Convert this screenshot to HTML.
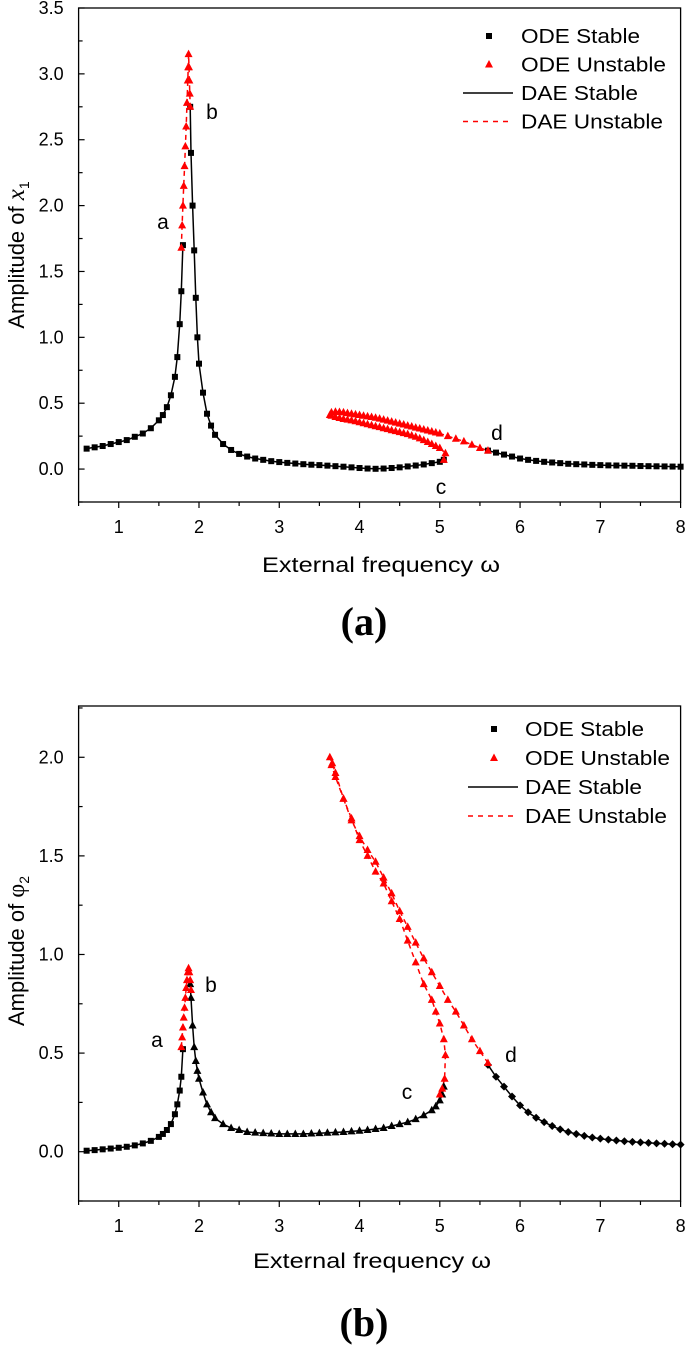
<!DOCTYPE html>
<html><head><meta charset="utf-8"><style>
body{margin:0;background:#fff}
svg{display:block;font-family:"Liberation Sans",sans-serif}
</style></head><body>
<svg id="s" width="685" height="1346" viewBox="0 0 685 1346" xmlns="http://www.w3.org/2000/svg"></svg>
<script>
// ---- Chart (a) data: amplitude of x1 ----
const aLowX=[0.6,0.7,0.8,0.9,1.0,1.1,1.2,1.3,1.4,1.5,1.55,1.6,1.65,1.7,1.73,1.76,1.78,1.8];
const aLowY=[0.155,0.165,0.175,0.19,0.205,0.22,0.245,0.27,0.31,0.37,0.41,0.47,0.56,0.70,0.85,1.1,1.35,1.70];
const aMidX=[1.89,1.9,1.92,1.94,1.96,1.98,2.0,2.05,2.1,2.15,2.2,2.3,2.4,2.5,2.6,2.7,2.8,2.9,3.0,3.1,3.2,3.3,3.4,3.5,3.6,3.7,3.8,3.9,4.0,4.1,4.2,4.3,4.4,4.5,4.6,4.7,4.8,4.9,5.0,5.05];
const aMidY=[2.75,2.4,2.0,1.66,1.3,1.0,0.8,0.58,0.42,0.33,0.26,0.19,0.145,0.115,0.095,0.08,0.07,0.06,0.053,0.047,0.042,0.037,0.033,0.03,0.026,0.022,0.018,0.013,0.008,0.004,0.002,0.004,0.008,0.013,0.02,0.027,0.035,0.045,0.055,0.07];
const aHighX=[5.6,5.7,5.8,5.9,6.0,6.1,6.2,6.3,6.4,6.5,6.6,6.7,6.8,6.9,7.0,7.1,7.2,7.3,7.4,7.5,7.6,7.7,7.8,7.9,8.0];
const aHighY=[0.14,0.125,0.11,0.095,0.08,0.07,0.062,0.055,0.05,0.045,0.04,0.037,0.035,0.032,0.03,0.028,0.027,0.026,0.025,0.023,0.022,0.021,0.02,0.019,0.018];
const aUnPeakX=[1.78,1.79,1.80,1.81,1.82,1.83,1.84,1.85,1.86,1.865,1.87,1.875,1.88,1.885,1.89];
const aUnPeakY=[1.68,1.85,2.0,2.15,2.3,2.45,2.6,2.78,2.95,3.05,3.15,3.05,2.95,2.85,2.75];
const aUnLoopX=[5.05,5.07,5.0,4.95,4.9,4.85,4.8,4.75,4.7,4.65,4.6,4.55,4.5,4.45,4.4,4.35,4.3,4.25,4.2,4.15,4.1,4.05,4.0,3.95,3.9,3.85,3.8,3.75,3.7,3.65,3.63,3.65,3.7,3.75,3.8,3.85,3.9,3.95,4.0,4.05,4.1,4.15,4.2,4.25,4.3,4.35,4.4,4.45,4.5,4.55,4.6,4.65,4.7,4.75,4.8,4.85,4.9,4.95,5.0,5.1,5.2,5.3,5.4,5.5,5.6];
const aUnLoopY=[0.07,0.12,0.16,0.175,0.19,0.205,0.22,0.233,0.245,0.255,0.265,0.273,0.28,0.288,0.295,0.303,0.31,0.318,0.325,0.333,0.34,0.348,0.355,0.363,0.37,0.375,0.38,0.388,0.395,0.405,0.41,0.43,0.435,0.433,0.43,0.425,0.42,0.415,0.41,0.405,0.40,0.395,0.39,0.383,0.375,0.368,0.36,0.353,0.345,0.338,0.33,0.323,0.315,0.308,0.3,0.293,0.285,0.278,0.27,0.25,0.23,0.21,0.185,0.16,0.14];
// ---- Chart (b) data: amplitude of phi2 ----
const bLowX=[0.6,0.7,0.8,0.9,1.0,1.1,1.2,1.3,1.4,1.5,1.55,1.6,1.65,1.7,1.73,1.76,1.78,1.8];
const bLowY=[0.005,0.008,0.012,0.016,0.02,0.025,0.032,0.042,0.055,0.075,0.09,0.11,0.14,0.19,0.24,0.31,0.38,0.52];
const bMidX=[1.89,1.9,1.92,1.94,1.96,1.98,2.0,2.05,2.1,2.15,2.2,2.3,2.4,2.5,2.6,2.7,2.8,2.9,3.0,3.1,3.2,3.3,3.4,3.5,3.6,3.7,3.8,3.9,4.0,4.1,4.2,4.3,4.4,4.5,4.6,4.7,4.8,4.9,4.95,5.0,5.03,5.05];
const bMidY=[0.85,0.78,0.64,0.53,0.46,0.41,0.37,0.3,0.24,0.2,0.17,0.14,0.12,0.11,0.1,0.097,0.094,0.092,0.09,0.09,0.09,0.09,0.092,0.094,0.096,0.098,0.1,0.103,0.106,0.11,0.115,0.12,0.13,0.14,0.15,0.165,0.185,0.21,0.23,0.26,0.29,0.33];
const bHighX=[5.6,5.7,5.8,5.9,6.0,6.1,6.2,6.3,6.4,6.5,6.6,6.7,6.8,6.9,7.0,7.1,7.2,7.3,7.4,7.5,7.6,7.7,7.8,7.9,8.0];
const bHighY=[0.44,0.38,0.33,0.28,0.235,0.2,0.172,0.15,0.13,0.113,0.1,0.09,0.08,0.072,0.066,0.061,0.057,0.053,0.05,0.047,0.045,0.042,0.04,0.038,0.036];
const bUnPeakX=[1.78,1.79,1.8,1.81,1.82,1.83,1.84,1.85,1.86,1.87,1.88,1.89,1.9];
const bUnPeakY=[0.53,0.58,0.63,0.68,0.73,0.78,0.83,0.87,0.91,0.93,0.91,0.87,0.82];
const bUnBigX=[5.0,5.03,5.06,5.07,5.05,5.0,4.95,4.9,4.8,4.7,4.6,4.5,4.4,4.3,4.2,4.1,4.0,3.9,3.8,3.7,3.65,3.63,3.66,3.7,3.8,3.9,4.0,4.1,4.2,4.3,4.4,4.5,4.6,4.7,4.8,4.9,5.0,5.1,5.2,5.3,5.4,5.5,5.6];
const bUnBigY=[0.29,0.32,0.37,0.49,0.57,0.65,0.71,0.77,0.85,0.96,1.07,1.18,1.27,1.36,1.42,1.5,1.58,1.69,1.79,1.9,1.96,2.0,1.97,1.92,1.79,1.68,1.6,1.53,1.47,1.39,1.31,1.22,1.14,1.06,0.98,0.91,0.84,0.77,0.71,0.64,0.57,0.51,0.45];
const xTicks=[1,2,3,4,5,6,7,8];
const aYTicks=[0.0,0.5,1.0,1.5,2.0,2.5,3.0,3.5];
const bYTicks=[0.0,0.5,1.0,1.5,2.0];
const legendLabels=["ODE Stable","ODE Unstable","DAE Stable","DAE Unstable"];
const legendWidths=[119,145,117,142];

const S=document.getElementById('s');
const NS="http://www.w3.org/2000/svg";
function el(tag,attrs,parent,text){const e=document.createElementNS(NS,tag);for(const k in attrs)e.setAttribute(k,attrs[k]);if(text!==undefined)e.textContent=text;(parent||S).appendChild(e);return e;}

function chart(cfg){
  const g=el('g',{});
  
  
  const L=78.6,R=680.6,T=cfg.top,B=cfg.bottom,x0=0.5,x1=8;
  const sx=v=>L+(v-x0)/(x1-x0)*(R-L);
  const sy=v=>B-(v-cfg.ymin)/(cfg.ymax-cfg.ymin)*(B-T);
  const frame=el('rect',{x:L,y:T,width:R-L,height:B-T,fill:'none',stroke:'#000','stroke-width':1.3},g);
  
  
  for(let v=0.5;v<=8.001;v+=0.5){const X=sx(v);const major=Math.abs(v-Math.round(v))<1e-6;
    el('line',{x1:X,x2:X,y1:B,y2:B+(major?6:4),stroke:'#000','stroke-width':1.2},g);}
  xTicks.forEach(v=>{const t=el('text',{x:sx(v),y:B+31,'font-size':18,'text-anchor':'middle'},g,String(v));
    
    });
  for(let v=cfg.ymin;v<=cfg.ymax+1e-6;v+=0.25){const Y=sy(v);const major=Math.abs(v*2-Math.round(v*2))<1e-6;
    el('line',{x1:L,x2:L+(major?6:4),y1:Y,y2:Y,stroke:'#000','stroke-width':1.2},g);}
  cfg.yTicks.forEach(v=>{const t=el('text',{x:L-15,y:sy(v)+6,'font-size':18,'text-anchor':'end'},g,v.toFixed(1));
    
    });
  const xt=el('text',{x:cfg.xlabelX-119,y:cfg.xlabelY,'font-size':21,textLength:238,lengthAdjust:'spacingAndGlyphs'},g,'External frequency ω');
  
  
  const yt=el('text',{x:0,y:0,'font-size':22,'text-anchor':'middle',transform:`translate(24,${cfg.ylabelC}) rotate(-90)`},g);
  
  
  el('tspan',{},yt,'Amplitude of ');
  if(cfg.sym==='x'){el('tspan',{'font-family':'Liberation Serif','font-style':'italic','font-size':25},yt,'x');}
  else{el('tspan',{'font-family':'Liberation Serif','font-size':24},yt,'φ');}
  el('tspan',{'font-size':14,dy:5},yt,cfg.sym==='x'?'1':'2');
  const path=(xs,ys)=>xs.map((v,i)=>(i?'L':'M')+sx(v).toFixed(1)+','+sy(ys[i]).toFixed(1)).join(' ');
  cfg.stable.forEach(s=>{const p=el('path',{d:path(s.x,s.y),fill:'none',stroke:'#000','stroke-width':1.5},g);
    
    });
  cfg.unstable.forEach(s=>{const p=el('path',{d:path(s.x,s.y),fill:'none',stroke:'#f00','stroke-width':1.5,'stroke-dasharray':'5,4'},g);
    
    });
  const marker=(shape,X,Y,color)=>{let m;
    if(shape==='sq')m=el('rect',{x:X-3,y:Y-3,width:6,height:6,fill:color},g);
    else if(shape==='tri')m=el('path',{d:`M${X},${Y-4.5}L${X+4},${Y+3}L${X-4},${Y+3}Z`,fill:color},g);
    else m=el('path',{d:`M${X},${Y-4}L${X+4},${Y}L${X},${Y+4}L${X-4},${Y}Z`,fill:color},g);
    return m;};
  cfg.stable.forEach(s=>s.x.forEach((v,i)=>{const m=marker(s.shape,sx(v),sy(s.y[i]),'#000');
    
    }));
  cfg.unstable.forEach(s=>s.x.forEach((v,i)=>{const m=marker('tri',sx(v),sy(s.y[i]),'#f00');
    
    }));
  cfg.labels.forEach(l=>{const t=el('text',{x:l[1],y:l[2],'font-size':21,'text-anchor':'middle'},g,l[0]);
    
    });
  const lg=el('g',{},g);
  
  
  legendLabels.forEach((lab,i)=>{const Y=cfg.legY+i*cfg.legDy;const cx=cfg.legX;
    if(i===0){el('rect',{x:cx-3,y:Y-3,width:6,height:6,fill:'#000'},lg);}
    else if(i===1){el('path',{d:`M${cx},${Y-4.5}L${cx+4},${Y+3}L${cx-4},${Y+3}Z`,fill:'#f00'},lg);}
    else if(i===2){el('line',{x1:cx-26,x2:cx+24,y1:Y,y2:Y,stroke:'#000','stroke-width':1.5},lg);}
    else{el('line',{x1:cx-26,x2:cx+24,y1:Y,y2:Y,stroke:'#f00','stroke-width':1.5,'stroke-dasharray':'5,5'},lg);}
    const t=el('text',{x:cfg.legTx,y:Y+7,'font-size':20,textLength:legendWidths[i],lengthAdjust:'spacingAndGlyphs'},lg,lab);
    
    });
  const cap=el('text',{x:cfg.capX,y:cfg.capY,'font-size':40,'font-weight':'bold','font-family':'Liberation Serif','text-anchor':'middle'},g,cfg.cap);
  
  
}
chart({name:'chart-a',top:8,bottom:502,ymin:-0.25,ymax:3.5,yTicks:aYTicks,sym:'x',xlabelX:381,xlabelY:572,ylabelC:255,capX:364,capY:635,cap:'(a)',
  stable:[{x:aLowX,y:aLowY,shape:'sq'},{x:aMidX,y:aMidY,shape:'sq'},{x:aHighX,y:aHighY,shape:'sq'}],
  unstable:[{x:aUnPeakX,y:aUnPeakY},{x:aUnLoopX,y:aUnLoopY}],
  labels:[['a',163,229],['b',212,119],['c',441,494],['d',497,440]],
  legX:489,legTx:521,legY:36,legDy:28.5});
chart({name:'chart-b',top:706,bottom:1201,ymin:-0.25,ymax:2.26,yTicks:bYTicks,sym:'p',xlabelX:372,xlabelY:1268,ylabelC:951,capX:364,capY:1336,cap:'(b)',
  stable:[{x:bLowX,y:bLowY,shape:'sq'},{x:bMidX,y:bMidY,shape:'tri'},{x:bHighX,y:bHighY,shape:'dia'}],
  unstable:[{x:bUnPeakX,y:bUnPeakY},{x:bUnBigX,y:bUnBigY}],
  labels:[['a',157,1047],['b',211,992],['c',407,1099],['d',511,1062]],
  legX:494,legTx:525,legY:729,legDy:29});
</script>
</body></html>
